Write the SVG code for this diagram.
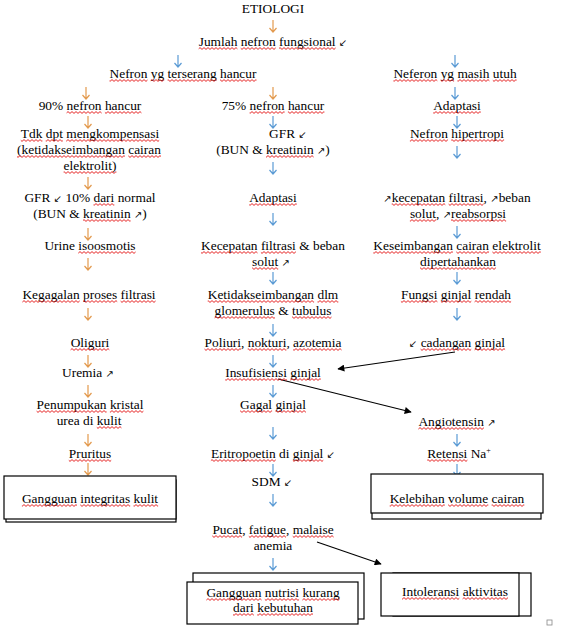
<svg xmlns="http://www.w3.org/2000/svg" width="564" height="630" viewBox="0 0 564 630">
<style>
.t{font-family:"Liberation Serif","Times New Roman",serif;font-size:13.4px;fill:#000;text-anchor:middle}
.s{font-family:"DejaVu Sans",sans-serif;font-size:10px}
.sup{font-size:8px}
.ao{fill:none;stroke:#e39a4e;stroke-width:1.2}
.ab{fill:none;stroke:#5b9bd5;stroke-width:1.2}
.box{fill:#fff;stroke:#000;stroke-width:1.2}
.con{fill:none;stroke:#000;stroke-width:1.1;marker-end:url(#ah)}
.sq rect{fill:url(#wave);height:3px}
</style>
<defs>
<marker id="ah" viewBox="0 0 10 10" refX="9" refY="5" markerWidth="9" markerHeight="7" markerUnits="userSpaceOnUse" orient="auto">
<path d="M0,0 L10,5 L0,10 Z" fill="#000"/>
</marker>
<pattern id="wave" width="4" height="3" patternUnits="userSpaceOnUse">
<path d="M0,0.6 L2,2.4 L4,0.6" fill="none" stroke="#e31010" stroke-width="0.9"/>
</pattern>
<path id="da" d="M0,-6 V6 M-3.5,2 L0,6 L3.5,2"/>
</defs>
<rect width="564" height="630" fill="#fff"/>

<g id="connectors">
<use href="#da" class="ao" x="273" y="26"/>
<use href="#da" class="ab" x="178" y="61"/>
<use href="#da" class="ab" x="455" y="61"/>
<use href="#da" class="ao" x="86" y="93"/>
<use href="#da" class="ao" x="273" y="93"/>
<use href="#da" class="ab" x="455" y="93"/>
<use href="#da" class="ao" x="88" y="122"/>
<use href="#da" class="ab" x="273" y="122"/>
<use href="#da" class="ab" x="457" y="122"/>
<use href="#da" class="ao" x="88" y="183"/>
<use href="#da" class="ab" x="273" y="168"/>
<use href="#da" class="ab" x="457" y="152"/>
<use href="#da" class="ao" x="88" y="234"/>
<use href="#da" class="ab" x="273" y="219"/>
<use href="#da" class="ab" x="457" y="232"/>
<use href="#da" class="ao" x="88" y="264"/>
<use href="#da" class="ab" x="273" y="278"/>
<use href="#da" class="ab" x="457" y="278"/>
<use href="#da" class="ao" x="88" y="314"/>
<use href="#da" class="ab" x="273" y="330"/>
<use href="#da" class="ab" x="457" y="314"/>
<use href="#da" class="ao" x="88" y="361"/>
<use href="#da" class="ab" x="273" y="361"/>
<use href="#da" class="ao" x="88" y="391"/>
<use href="#da" class="ab" x="273" y="391"/>
<use href="#da" class="ao" x="88" y="440"/>
<use href="#da" class="ab" x="273" y="433"/>
<use href="#da" class="ab" x="457" y="440"/>
<use href="#da" class="ao" x="88" y="469"/>
<use href="#da" class="ab" x="273" y="470"/>
<use href="#da" class="ab" x="457" y="470"/>
<use href="#da" class="ab" x="273" y="500"/>
<use href="#da" class="ab" x="273" y="564"/>
<line class="con" x1="455" y1="352" x2="338" y2="369"/>
<line class="con" x1="278" y1="379" x2="411" y2="412"/>
<line class="con" x1="317" y1="542" x2="381" y2="564"/>
</g>

<g id="n-etiologi"><text class="t" x="273" y="13">ETIOLOGI</text></g>
<g id="n-jumlah"><text class="t" x="273" y="46"><tspan>Jumlah</tspan> <tspan>nefron</tspan> <tspan>fungsional</tspan> <tspan class="s">↙</tspan></text></g>
<g id="n-terserang"><text class="t" x="183" y="78"><tspan>Nefron</tspan> <tspan>yg</tspan> <tspan>terserang</tspan> <tspan>hancur</tspan></text></g>
<g id="n-utuh"><text class="t" x="455" y="78"><tspan>Neferon</tspan> <tspan>yg</tspan> <tspan>masih</tspan> <tspan>utuh</tspan></text></g>
<g id="n-90"><text class="t" x="90" y="110">90% <tspan>nefron</tspan> <tspan>hancur</tspan></text></g>
<g id="n-75"><text class="t" x="273" y="110">75% <tspan>nefron</tspan> <tspan>hancur</tspan></text></g>
<g id="n-adaptasi-r"><text class="t" x="457" y="110"><tspan>Adaptasi</tspan></text></g>
<g id="n-tdk"><text class="t" x="90" y="138"><tspan>Tdk</tspan> <tspan>dpt</tspan> <tspan>mengkompensasi</tspan></text><text class="t" x="89" y="154"><tspan>(ketidakseimbangan</tspan> <tspan>cairan</tspan></text><text class="t" x="90" y="170"><tspan>elektrolit)</tspan></text></g>
<g id="n-gfr"><text class="t" x="288" y="138">GFR <tspan class="s">↙</tspan></text><text class="t" x="273" y="154">(BUN &amp; <tspan>kreatinin</tspan> <tspan class="s">↗</tspan>)</text></g>
<g id="n-hipertropi"><text class="t" x="457" y="138"><tspan>Nefron</tspan> <tspan>hipertropi</tspan></text></g>
<g id="n-gfr10"><text class="t" x="90" y="202">GFR <tspan class="s">↙</tspan> 10% <tspan>dari</tspan> normal</text><text class="t" x="90" y="218">(BUN &amp; <tspan>kreatinin</tspan> <tspan class="s">↗</tspan>)</text></g>
<g id="n-adaptasi-m"><text class="t" x="273" y="202"><tspan>Adaptasi</tspan></text></g>
<g id="n-kecepatan-r"><text class="t" x="457" y="202"><tspan class="s">↗</tspan><tspan>kecepatan</tspan> <tspan>filtrasi</tspan>, <tspan class="s">↗</tspan>beban</text><text class="t" x="458" y="218"><tspan>solut</tspan>, <tspan class="s">↗</tspan><tspan>reabsorpsi</tspan></text></g>
<g id="n-urine"><text class="t" x="90" y="250">Urine <tspan>isoosmotis</tspan></text></g>
<g id="n-kecepatan-m"><text class="t" x="273" y="250"><tspan>Kecepatan</tspan> <tspan>filtrasi</tspan> &amp; beban</text><text class="t" x="271" y="266"><tspan>solut</tspan> <tspan class="s">↗</tspan></text></g>
<g id="n-keseimbangan"><text class="t" x="457" y="250"><tspan>Keseimbangan</tspan> <tspan>cairan</tspan> <tspan>elektrolit</tspan></text><text class="t" x="458" y="266"><tspan>dipertahankan</tspan></text></g>
<g id="n-kegagalan"><text class="t" x="89" y="299"><tspan>Kegagalan</tspan> <tspan>proses</tspan> <tspan>filtrasi</tspan></text></g>
<g id="n-ketidak"><text class="t" x="273" y="299"><tspan>Ketidakseimbangan</tspan> <tspan>dlm</tspan></text><text class="t" x="273" y="315"><tspan>glomerulus</tspan> &amp; <tspan>tubulus</tspan></text></g>
<g id="n-fungsi"><text class="t" x="456" y="299"><tspan>Fungsi</tspan> <tspan>ginjal</tspan> <tspan>rendah</tspan></text></g>
<g id="n-oliguri"><text class="t" x="90" y="347"><tspan>Oliguri</tspan></text></g>
<g id="n-poliuri"><text class="t" x="273" y="347"><tspan>Poliuri</tspan>, <tspan>nokturi</tspan>, <tspan>azotemia</tspan></text></g>
<g id="n-cadangan"><text class="t" x="457" y="347"><tspan class="s">↙</tspan> <tspan>cadangan</tspan> <tspan>ginjal</tspan></text></g>
<g id="n-uremia"><text class="t" x="88" y="377">Uremia <tspan class="s">↗</tspan></text></g>
<g id="n-insufisiensi"><text class="t" x="273" y="377"><tspan>Insufisiensi</tspan> <tspan>ginjal</tspan></text></g>
<g id="n-penumpukan"><text class="t" x="90" y="409"><tspan>Penumpukan</tspan> <tspan>kristal</tspan></text><text class="t" x="89" y="425">urea di <tspan>kulit</tspan></text></g>
<g id="n-gagal"><text class="t" x="273" y="409"><tspan>Gagal</tspan> <tspan>ginjal</tspan></text></g>
<g id="n-angiotensin"><text class="t" x="457" y="426"><tspan>Angiotensin</tspan> <tspan class="s">↗</tspan></text></g>
<g id="n-pruritus"><text class="t" x="90" y="458"><tspan>Pruritus</tspan></text></g>
<g id="n-eritropoetin"><text class="t" x="273" y="458"><tspan>Eritropoetin</tspan> di <tspan>ginjal</tspan> <tspan class="s">↙</tspan></text></g>
<g id="n-retensi"><text class="t" x="459" y="458"><tspan>Retensi</tspan> Na<tspan class="sup" dy="-5">+</tspan></text></g>
<g id="n-sdm"><text class="t" x="272" y="486">SDM <tspan class="s">↙</tspan></text></g>
<g id="n-integritas"><rect class="box" x="6" y="480" width="170" height="42"/><rect class="box" x="4" y="476" width="172" height="43"/><text class="t" x="90" y="503"><tspan>Gangguan</tspan> <tspan>integritas</tspan> <tspan>kulit</tspan></text></g>
<g id="n-kelebihan"><rect class="box" x="372" y="478" width="169" height="41"/><rect class="box" x="371" y="474" width="172" height="39"/><text class="t" x="457" y="503"><tspan>Kelebihan</tspan> <tspan>volume</tspan> <tspan>cairan</tspan></text></g>
<g id="n-pucat"><text class="t" x="273" y="534"><tspan>Pucat</tspan>, <tspan>fatigue</tspan>, <tspan>malaise</tspan></text><text class="t" x="273" y="550">anemia</text></g>
<g id="n-nutrisi"><rect class="box" x="193" y="573" width="171" height="46"/><rect class="box" x="187" y="582" width="171" height="42"/><text class="t" x="273" y="597"><tspan>Gangguan</tspan> <tspan>nutrisi</tspan> <tspan>kurang</tspan></text><text class="t" x="273" y="612"><tspan>dari</tspan> <tspan>kebutuhan</tspan></text></g>
<g id="n-intoleransi"><rect class="box" x="393" y="573" width="138" height="43"/><rect class="box" x="381" y="573" width="138" height="43"/><text class="t" x="455" y="596"><tspan>Intoleransi</tspan> <tspan>aktivitas</tspan></text></g>
<rect x="547" y="620" width="5" height="5" fill="none" stroke="#888" stroke-width="0.8"/>

<g id="spellcheck" class="sq">
<g transform="translate(0,47)"><rect x="198.7" width="38.7"/><rect x="240.7" width="35"/><rect x="279" width="56.6"/></g>
<g transform="translate(0,79)"><rect x="109.5" width="38"/><rect x="150.8" width="13.4"/><rect x="167.6" width="49.1"/><rect x="220" width="36.5"/><rect x="393.4" width="43.9"/><rect x="440.7" width="13.4"/><rect x="457.4" width="32"/><rect x="492.8" width="23.8"/></g>
<g transform="translate(0,111)"><rect x="66.6" width="35"/><rect x="104.9" width="36.5"/><rect x="249.6" width="35"/><rect x="287.9" width="36.5"/><rect x="433.2" width="47.6"/></g>
<g transform="translate(0,139)"><rect x="20.8" width="21.6"/><rect x="45.7" width="17.1"/><rect x="66.2" width="93"/><rect x="409.9" width="38"/><rect x="451.2" width="52.9"/></g>
<g transform="translate(0,155)"><rect x="17" width="107.9"/><rect x="128.3" width="32.7"/><rect x="266" width="47.6"/></g>
<g transform="translate(0,171)"><rect x="63.6" width="52.8"/></g>
<g transform="translate(0,203)"><rect x="93.5" width="20.8"/><rect x="249.2" width="47.6"/><rect x="391.7" width="53.6"/><rect x="448.6" width="35"/></g>
<g transform="translate(0,219)"><rect x="83" width="47.6"/><rect x="409.9" width="26.1"/><rect x="451" width="55.1"/></g>
<g transform="translate(0,251)"><rect x="78.3" width="57.3"/><rect x="201" width="56.5"/><rect x="260.9" width="35"/><rect x="373.3" width="79.6"/><rect x="456.3" width="32.7"/><rect x="492.4" width="48.4"/></g>
<g transform="translate(0,267)"><rect x="252.1" width="26.1"/><rect x="420" width="75.9"/></g>
<g transform="translate(0,300)"><rect x="22.4" width="57.3"/><rect x="83" width="34.2"/><rect x="120.6" width="35"/><rect x="207.7" width="106.4"/><rect x="317.5" width="20.8"/><rect x="400.9" width="36.5"/><rect x="440.8" width="30.5"/><rect x="474.6" width="36.5"/></g>
<g transform="translate(0,316)"><rect x="214.6" width="60.3"/><rect x="292" width="39.5"/></g>
<g transform="translate(0,348)"><rect x="70.6" width="38.7"/><rect x="204.5" width="36.5"/><rect x="247.7" width="38.7"/><rect x="293.1" width="48.4"/><rect x="420.6" width="50.6"/><rect x="474.6" width="30.5"/></g>
<g transform="translate(0,378)"><rect x="225.2" width="61.8"/><rect x="290.3" width="30.5"/></g>
<g transform="translate(0,410)"><rect x="36.6" width="70"/><rect x="109.9" width="33.5"/><rect x="240.1" width="32"/><rect x="275.4" width="30.5"/></g>
<g transform="translate(0,426)"><rect x="96.8" width="24.6"/></g>
<g transform="translate(0,427)"><rect x="418.4" width="65.5"/></g>
<g transform="translate(0,459)"><rect x="68.8" width="42.4"/><rect x="210.9" width="64.8"/><rect x="292.8" width="30.5"/><rect x="427.2" width="40.2"/></g>
<g transform="translate(0,504)"><rect x="21.9" width="55.1"/><rect x="80.3" width="49.9"/><rect x="133.5" width="24.6"/><rect x="389.7" width="55.1"/><rect x="448.1" width="40.2"/><rect x="491.6" width="32.7"/></g>
<g transform="translate(0,535)"><rect x="212.3" width="29.8"/><rect x="248.8" width="37.2"/><rect x="292.7" width="40.9"/></g>
<g transform="translate(0,598)"><rect x="206.4" width="55.1"/><rect x="264.8" width="34.3"/><rect x="302.4" width="37.2"/></g>
<g transform="translate(0,597)"><rect x="402" width="57.3"/><rect x="462.6" width="45.4"/></g>
<g transform="translate(0,613)"><rect x="233" width="20.8"/><rect x="257.2" width="55.8"/></g>
</g>
</svg>
